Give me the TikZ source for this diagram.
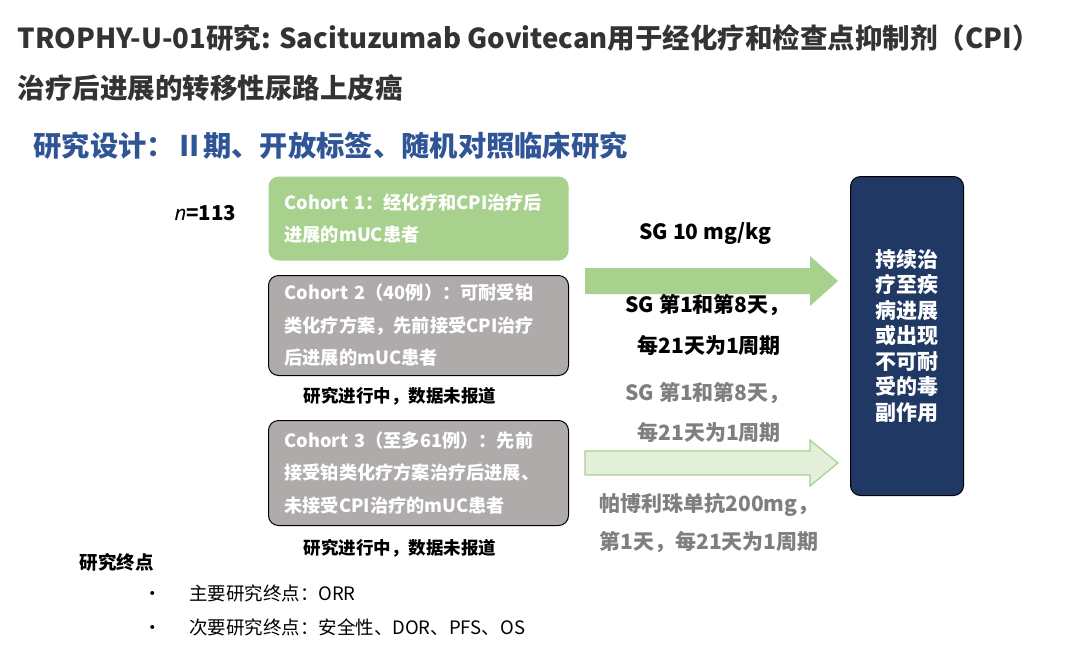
\documentclass[tikz,border=0pt]{standalone}
\usepackage{fontspec}
\setmainfont{Noto Sans CJK SC}
\newfontfamily\latinit{Noto Sans}
\definecolor{ttl}{HTML}{333333}
\definecolor{blu}{HTML}{2F5597}
\definecolor{grn}{HTML}{A9D18E}
\definecolor{lgrn}{HTML}{E2F0D9}
\definecolor{gry}{HTML}{AFABAB}
\definecolor{navy}{HTML}{203864}
\definecolor{txg}{HTML}{7F7F7F}
\begin{document}
\begin{tikzpicture}[x=1pt,y=-1pt,
  box/.style={rounded corners=10pt,draw=black,line width=1pt,fill=gry,text=white,font=\fontsize{18.2}{32.5}\selectfont\bfseries,align=left,text width=268pt,inner xsep=16pt,inner ysep=3pt,minimum height=100pt,anchor=north west},
  lbl/.style={font=\fontsize{21}{24}\selectfont\bfseries,anchor=west},
  note/.style={font=\fontsize{17.5}{20}\selectfont\bfseries,anchor=west}]
\useasboundingbox[fill=white] (0,0) rectangle (1080,649);
\node[anchor=west,text=ttl,font=\fontsize{27.5}{30}\selectfont\bfseries] (t1) at (14,38) {TROPHY-U-01研究: Sacituzumab Govitecan用于经化疗和检查点抑制剂（CPI）};
\node[anchor=west,text=ttl,font=\fontsize{27.5}{30}\selectfont\bfseries] (t2) at (14,88) {治疗后进展的转移性尿路上皮癌};
\node[anchor=west,text=blu,font=\fontsize{28.3}{30}\selectfont\bfseries] (st) at (30,146) {研究设计：Ⅱ期、开放标签、随机对照临床研究};
\node[anchor=west,font=\fontsize{20.5}{24}\selectfont\bfseries] (n) at (171,213) {{\latinit\itshape n}=113};
\node[box,draw=none,fill=grn,minimum height=84pt] (c1) at (268,176) {Cohort 1：经化疗和CPI治疗后\\进展的mUC患者};
\node[box] (c2) at (268,275) {Cohort 2（40例）：可耐受铂\\类化疗方案，先前接受CPI治疗\\后进展的mUC患者};
\node[note] (r2) at (300,396) {研究进行中，数据未报道};
\node[box,minimum height=105pt] (c3) at (268,420) {Cohort 3（至多61例）：先前\\接受铂类化疗方案治疗后进展、\\未接受CPI治疗的mUC患者};
\node[note] (r3) at (300,548) {研究进行中，数据未报道};
\fill[grn] (585,268) -- (810,268) -- (810,256) -- (838,281) -- (810,306) -- (810,294) -- (585,294) -- cycle;
\filldraw[fill=lgrn,draw=grn,line width=1.2pt] (585,451) -- (810,451) -- (810,440) -- (838,463) -- (810,486) -- (810,475) -- (585,475) -- cycle;
\node[lbl] (d1) at (636,233) {SG 10 mg/kg};
\node[lbl] (d2) at (622,305) {SG 第1和第8天，};
\node[lbl] (d3) at (634,345) {每21天为1周期};
\node[lbl,text=txg] (d4) at (622,393) {SG 第1和第8天，};
\node[lbl,text=txg] (d5) at (634,432) {每21天为1周期};
\node[lbl,text=txg] (d6) at (596,505) {帕博利珠单抗200mg，};
\node[lbl,text=txg] (d7) at (596,542) {第1天，每21天为1周期};
\node[rounded corners=10pt,draw=black,line width=1pt,fill=navy,text=white,minimum width=113pt,minimum height=319pt,anchor=north west,align=center,font=\fontsize{21}{25.5}\selectfont\bfseries] (rb) at (850,176) {持续治\\疗至疾\\病进展\\或出现\\不可耐\\受的毒\\副作用};
\node[note,font=\fontsize{18.5}{20}\selectfont\bfseries] (ep) at (76,562) {研究终点};
\node[anchor=west,font=\fontsize{18.5}{20}\selectfont] (b1) at (140,593) {•\hspace{27pt}主要研究终点：ORR};
\node[anchor=west,font=\fontsize{18.5}{20}\selectfont] (b2) at (140,627) {•\hspace{27pt}次要研究终点：安全性、DOR、PFS、OS};
\end{tikzpicture}
\end{document}
